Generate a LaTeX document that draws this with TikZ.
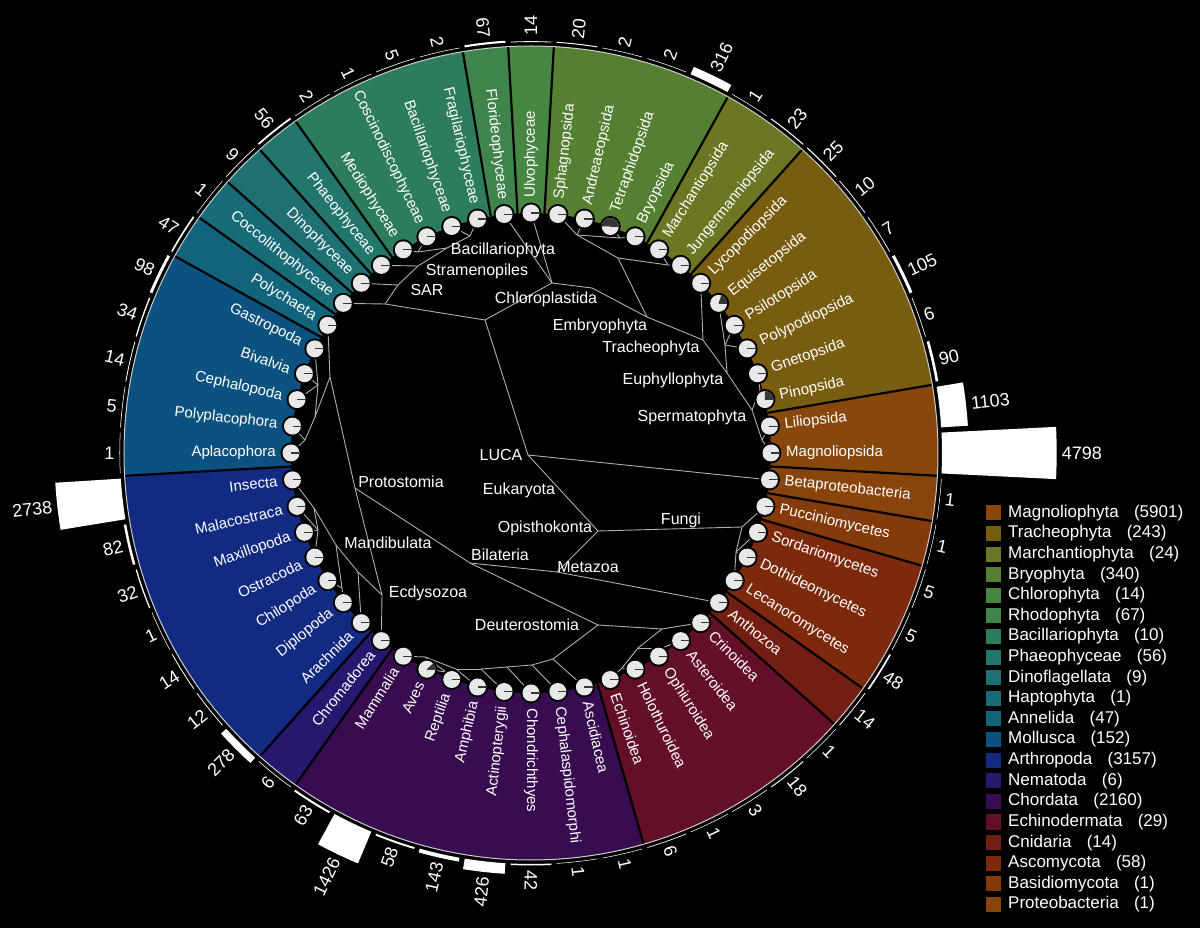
\documentclass[tikz,border=0pt]{standalone}
\usepackage{fontspec}
\setmainfont{Liberation Sans}
\usetikzlibrary{positioning}

\definecolor{phmagnolio}{RGB}{137,72,11}
\definecolor{phtrach}{RGB}{120,92,15}
\definecolor{phmarchant}{RGB}{108,118,35}
\definecolor{phbryo}{RGB}{85,128,50}
\definecolor{phchloro}{RGB}{70,135,65}
\definecolor{phrhodo}{RGB}{62,132,76}
\definecolor{phbacil}{RGB}{45,125,92}
\definecolor{phphaeo}{RGB}{35,118,108}
\definecolor{phdino}{RGB}{30,112,114}
\definecolor{phhapto}{RGB}{24,108,120}
\definecolor{phannel}{RGB}{18,100,125}
\definecolor{phmollus}{RGB}{12,82,128}
\definecolor{pharthro}{RGB}{18,42,130}
\definecolor{phnemat}{RGB}{38,24,110}
\definecolor{phchord}{RGB}{55,12,80}
\definecolor{phechino}{RGB}{100,15,40}
\definecolor{phcnid}{RGB}{115,30,18}
\definecolor{phasco}{RGB}{125,42,12}
\definecolor{phbasid}{RGB}{132,58,10}
\definecolor{phproteo}{RGB}{136,68,10}
\definecolor{pielight}{RGB}{232,232,232}
\definecolor{piedark}{RGB}{55,55,55}
\definecolor{branchgray}{RGB}{175,175,175}
\definecolor{rimgray}{RGB}{205,205,205}

\def\dang{6.4285714}
\def\leaflist{Magnoliopsida/4798/0, Betaproteobacteria/1/0, Pucciniomycetes/1/0,
  Sordariomycetes/5/0, Dothideomycetes/5/0, Lecanoromycetes/48/0, Anthozoa/14/0,
  Crinoidea/1/0, Asteroidea/18/0, Ophiuroidea/3/0, Holothuroidea/1/0, Echinoidea/6/0,
  Ascidiacea/1/0, Cephalaspidomorphi/1/0, Chondrichthyes/42/0, Actinopterygii/426/0,
  Amphibia/143/0, Reptilia/58/0, Aves/1426/0.12, Mammalia/63/0, Chromadorea/6/0,
  Arachnida/278/0, Diplopoda/12/0, Chilopoda/14/0, Ostracoda/1/0, Maxillopoda/32/0,
  Malacostraca/82/0, Insecta/2738/0, Aplacophora/1/0, Polyplacophora/5/0,
  Cephalopoda/14/0, Bivalvia/34/0, Gastropoda/98/0, Polychaeta/47/0,
  Coccolithophyceae/1/0, Dinophyceae/9/0, Phaeophyceae/56/0, Mediophyceae/2/0,
  Coscinodiscophyceae/1/0, Bacillariophyceae/5/0, Fragilariophyceae/2/0,
  Florideophyceae/67/0, Ulvophyceae/14/0, Sphagnopsida/20/0, Andreaeopsida/2/0,
  Tetraphidopsida/2/0.5, Bryopsida/316/0, Marchantiopsida/1/0, Jungermanniopsida/23/0,
  Lycopodiopsida/25/0, Equisetopsida/10/0.2, Psilotopsida/7/0, Polypodiopsida/105/0,
  Gnetopsida/6/0, Pinopsida/90/0.25, Liliopsida/1103/0}

\begin{document}
\begin{tikzpicture}[x=1pt, y=1pt, line join=round,
    leaflbl/.style={text=white, font=\fontsize{15}{17}\selectfont, inner sep=0pt},
    countlbl/.style={text=white, font=\fontsize{18}{20}\selectfont, inner sep=0pt},
    cladelbl/.style={text=white, font=\fontsize{16}{18}\selectfont, inner sep=0pt},
    legendlbl/.style={text=white, font=\fontsize{17}{19}\selectfont, inner sep=0pt, anchor=west},
    branch/.style={branchgray, line width=0.9pt},
    divider/.style={black, line width=2.2pt},
    rim/.style={rimgray, line width=1pt},
  ]

  % ---- background -------------------------------------------
  \fill[black] (-531,-475) rectangle (669,453);
  \useasboundingbox (-531,-475) rectangle (669,453);

  % ---- phylum sectors ---------------------------------------
  \foreach \a/\b/\col in {-1/0/phmagnolio, 1/1/phproteo, 2/2/phbasid, 3/5/phasco,
      6/6/phcnid, 7/11/phechino, 12/19/phchord, 20/20/phnemat, 21/27/pharthro,
      28/32/phmollus, 33/33/phannel, 34/34/phhapto, 35/35/phdino, 36/36/phphaeo,
      37/40/phbacil, 41/41/phrhodo, 42/42/phchloro, 43/46/phbryo, 47/48/phmarchant,
      49/54/phtrach}{
    \pgfmathsetmacro\ta{-(\b+0.5)*\dang}
    \pgfmathsetmacro\tb{-(\a-0.5)*\dang}
    \fill[\col] (\ta:240) -- (\ta:407) arc[start angle=\ta, end angle=\tb, radius=407]
      -- (\tb:240) arc[start angle=\tb, end angle=\ta, radius=240] -- cycle;
  }
  \foreach \k in {0.5,1.5,2.5,5.5,6.5,11.5,19.5,20.5,27.5,32.5,33.5,34.5,35.5,36.5,
      40.5,41.5,42.5,46.5,48.5,54.5}
    \draw[divider] ({-\k*\dang}:240) -- ({-\k*\dang}:407);
  \draw[rim] (0,0) circle[radius=407];

  % ---- leaves: labels, count bars, counts -------------------
  \foreach \name/\cnt/\share [count=\i from 0] in \leaflist {
    \pgfmathsetmacro\th{-\i*\dang}
    \pgfmathtruncatemacro\isleft{(\th < -90.5) && (\th > -269.5)}
    \pgfmathsetmacro\ro{411.5+0.0238*\cnt}
    \pgfmathsetmacro\rn{\ro+5}
    \coordinate (\name) at (\th:240);
    \fill[white] ({\th-2.85}:411) arc[start angle={\th-2.85}, end angle={\th+2.85}, radius=411]
      -- ({\th+2.85}:\ro) arc[start angle={\th+2.85}, end angle={\th-2.85}, radius=\ro] -- cycle;
    \ifnum\isleft=1
      \node[leaflbl, anchor=east, rotate=\th+180] at (\th:255) {\name};
      \node[countlbl, anchor=east, rotate=\th+180] at (\th:\rn) {\cnt};
    \else
      \node[leaflbl, anchor=west, rotate=\th] at (\th:255) {\name};
      \node[countlbl, anchor=west, rotate=\th] at (\th:\rn) {\cnt};
    \fi
  }

  % ---- tree (pixel frame) -----------------------------------
  \begin{scope}[x=1pt, y=-1pt, shift={(-531,-453)}]
    \coordinate (luca)   at (528,455);
    \coordinate (diaph)  at (485,320);
    \coordinate (opis)   at (598,531);
    \coordinate (fungi)  at (742,527);
    \coordinate (asco)   at (736,552);
    \coordinate (metaz)  at (557,572);
    \coordinate (bilat)  at (470,563);
    \coordinate (proto)  at (355,488);
    \coordinate (lopho)  at (330,377);
    \coordinate (mollus) at (315,417);
    \coordinate (conch)  at (318,385);
    \coordinate (acul)   at (305,440);
    \coordinate (ecdys)  at (382,595);
    \coordinate (arthro) at (358,572);
    \coordinate (mandib) at (336,545);
    \coordinate (myria)  at (342,588);
    \coordinate (pancr)  at (314,508);
    \coordinate (crust)  at (318,530);
    \coordinate (deut)   at (598,625);
    \coordinate (echin)  at (662,629);
    \coordinate (eleu)   at (638,648);
    \coordinate (asterz) at (662,648);
    \coordinate (echinz) at (622,668);
    \coordinate (chord)  at (553,659);
    \coordinate (vert)   at (532,665);
    \coordinate (gnath)  at (507,667);
    \coordinate (oste)   at (481,669);
    \coordinate (tetra)  at (456,669);
    \coordinate (amnio)  at (425,657);
    \coordinate (saur)   at (446,672);
    \coordinate (sarb)   at (385,304);
    \coordinate (sar)    at (398,285);
    \coordinate (stram)  at (418,266);
    \coordinate (bacil)  at (447,248);
    \coordinate (bacA)   at (418,252);
    \coordinate (bacB)   at (470,236);
    \coordinate (archae) at (552,283);
    \coordinate (chloro) at (592,288);
    \coordinate (bryo)   at (577,235);
    \coordinate (bryoB)  at (620,238);
    \coordinate (setap)  at (618,258);
    \coordinate (embryo) at (647,317);
    \coordinate (march)  at (668,265);
    \coordinate (trach)  at (703,340);
    \coordinate (euphy)  at (727,373);
    \coordinate (fern)   at (725,345);
    \coordinate (sperm)  at (752,410);
    \coordinate (gymno)  at (760,390);
    \coordinate (angio)  at (762,440);

    \draw[branch] (luca) -- (Betaproteobacteria);
    \draw[branch] (luca) -- (diaph);
    \draw[branch] (luca) -- (opis);
    \draw[branch] (diaph) -- (sarb);
    \draw[branch] (diaph) -- (archae);
    \draw[branch] (sarb) -- (Coccolithophyceae);
    \draw[branch] (sarb) -- (sar);
    \draw[branch] (sar) -- (Dinophyceae);
    \draw[branch] (sar) -- (stram);
    \draw[branch] (stram) -- (Phaeophyceae);
    \draw[branch] (stram) -- (bacil);
    \draw[branch] (bacil) -- (bacA);
    \draw[branch] (bacA) -- (Mediophyceae);
    \draw[branch] (bacA) -- (Coscinodiscophyceae);
    \draw[branch] (bacil) -- (bacB);
    \draw[branch] (bacB) -- (Bacillariophyceae);
    \draw[branch] (bacB) -- (Fragilariophyceae);
    \draw[branch] (archae) -- (Florideophyceae);
    \draw[branch] (archae) -- (Ulvophyceae);
    \draw[branch] (archae) -- (chloro);
    \draw[branch] (chloro) -- (embryo);
    \draw[branch] (embryo) -- (setap);
    \draw[branch] (setap) -- (bryo);
    \draw[branch] (bryo) -- (Sphagnopsida);
    \draw[branch] (bryo) -- (Andreaeopsida);
    \draw[branch] (bryo) -- (bryoB);
    \draw[branch] (bryoB) -- (Tetraphidopsida);
    \draw[branch] (bryoB) -- (Bryopsida);
    \draw[branch] (setap) -- (march);
    \draw[branch] (march) -- (Marchantiopsida);
    \draw[branch] (march) -- (Jungermanniopsida);
    \draw[branch] (embryo) -- (trach);
    \draw[branch] (trach) -- (Lycopodiopsida);
    \draw[branch] (trach) -- (euphy);
    \draw[branch] (euphy) -- (fern);
    \draw[branch] (fern) -- (Equisetopsida);
    \draw[branch] (fern) -- (Psilotopsida);
    \draw[branch] (fern) -- (Polypodiopsida);
    \draw[branch] (euphy) -- (sperm);
    \draw[branch] (sperm) -- (gymno);
    \draw[branch] (gymno) -- (Gnetopsida);
    \draw[branch] (gymno) -- (Pinopsida);
    \draw[branch] (sperm) -- (angio);
    \draw[branch] (angio) -- (Liliopsida);
    \draw[branch] (angio) -- (Magnoliopsida);
    \draw[branch] (opis) -- (fungi);
    \draw[branch] (fungi) -- (Pucciniomycetes);
    \draw[branch] (fungi) -- (asco);
    \draw[branch] (asco) -- (Sordariomycetes);
    \draw[branch] (asco) -- (Dothideomycetes);
    \draw[branch] (asco) -- (Lecanoromycetes);
    \draw[branch] (opis) -- (metaz);
    \draw[branch] (metaz) -- (Anthozoa);
    \draw[branch] (metaz) -- (bilat);
    \draw[branch] (bilat) -- (proto);
    \draw[branch] (bilat) -- (deut);
    \draw[branch] (proto) -- (lopho);
    \draw[branch] (lopho) -- (Polychaeta);
    \draw[branch] (lopho) -- (mollus);
    \draw[branch] (mollus) -- (conch);
    \draw[branch] (conch) -- (Gastropoda);
    \draw[branch] (conch) -- (Bivalvia);
    \draw[branch] (conch) -- (Cephalopoda);
    \draw[branch] (mollus) -- (acul);
    \draw[branch] (acul) -- (Polyplacophora);
    \draw[branch] (acul) -- (Aplacophora);
    \draw[branch] (proto) -- (ecdys);
    \draw[branch] (ecdys) -- (Chromadorea);
    \draw[branch] (ecdys) -- (arthro);
    \draw[branch] (arthro) -- (Arachnida);
    \draw[branch] (arthro) -- (mandib);
    \draw[branch] (mandib) -- (myria);
    \draw[branch] (myria) -- (Diplopoda);
    \draw[branch] (myria) -- (Chilopoda);
    \draw[branch] (mandib) -- (pancr);
    \draw[branch] (pancr) -- (Insecta);
    \draw[branch] (pancr) -- (crust);
    \draw[branch] (crust) -- (Malacostraca);
    \draw[branch] (crust) -- (Maxillopoda);
    \draw[branch] (crust) -- (Ostracoda);
    \draw[branch] (deut) -- (echin);
    \draw[branch] (echin) -- (Crinoidea);
    \draw[branch] (echin) -- (eleu);
    \draw[branch] (eleu) -- (asterz);
    \draw[branch] (asterz) -- (Asteroidea);
    \draw[branch] (asterz) -- (Ophiuroidea);
    \draw[branch] (eleu) -- (echinz);
    \draw[branch] (echinz) -- (Holothuroidea);
    \draw[branch] (echinz) -- (Echinoidea);
    \draw[branch] (deut) -- (chord);
    \draw[branch] (chord) -- (Ascidiacea);
    \draw[branch] (chord) -- (vert);
    \draw[branch] (vert) -- (Cephalaspidomorphi);
    \draw[branch] (vert) -- (gnath);
    \draw[branch] (gnath) -- (Chondrichthyes);
    \draw[branch] (gnath) -- (oste);
    \draw[branch] (oste) -- (Actinopterygii);
    \draw[branch] (oste) -- (tetra);
    \draw[branch] (tetra) -- (Amphibia);
    \draw[branch] (tetra) -- (amnio);
    \draw[branch] (amnio) -- (Mammalia);
    \draw[branch] (amnio) -- (saur);
    \draw[branch] (saur) -- (Reptilia);
    \draw[branch] (saur) -- (Aves);

    % ---- clade labels ----
    \node[cladelbl] at (501,455) {LUCA};
    \node[cladelbl] at (519,490) {Eukaryota};
    \node[cladelbl] at (545,528) {Opisthokonta};
    \node[cladelbl] at (681,520) {Fungi};
    \node[cladelbl] at (500,555) {Bilateria};
    \node[cladelbl] at (588,567) {Metazoa};
    \node[cladelbl] at (401,482) {Protostomia};
    \node[cladelbl] at (388,543) {Mandibulata};
    \node[cladelbl] at (428,593) {Ecdysozoa};
    \node[cladelbl] at (527,625) {Deuterostomia};
    \node[cladelbl] at (427,290) {SAR};
    \node[cladelbl] at (477,271) {Stramenopiles};
    \node[cladelbl] at (503,250) {Bacillariophyta};
    \node[cladelbl] at (546,299) {Chloroplastida};
    \node[cladelbl] at (600,326) {Embryophyta};
    \node[cladelbl] at (651,348) {Tracheophyta};
    \node[cladelbl] at (673,380) {Euphyllophyta};
    \node[cladelbl] at (692,417) {Spermatophyta};

    % ---- legend ----
    \foreach \col/\txt [count=\k from 0] in {
        phmagnolio/Magnoliophyta\hspace{0.9em}(5901),
        phtrach/Tracheophyta\hspace{0.9em}(243),
        phmarchant/Marchantiophyta\hspace{0.9em}(24),
        phbryo/Bryophyta\hspace{0.9em}(340),
        phchloro/Chlorophyta\hspace{0.9em}(14),
        phrhodo/Rhodophyta\hspace{0.9em}(67),
        phbacil/Bacillariophyta\hspace{0.9em}(10),
        phphaeo/Phaeophyceae\hspace{0.9em}(56),
        phdino/Dinoflagellata\hspace{0.9em}(9),
        phhapto/Haptophyta\hspace{0.9em}(1),
        phannel/Annelida\hspace{0.9em}(47),
        phmollus/Mollusca\hspace{0.9em}(152),
        pharthro/Arthropoda\hspace{0.9em}(3157),
        phnemat/Nematoda\hspace{0.9em}(6),
        phchord/Chordata\hspace{0.9em}(2160),
        phechino/Echinodermata\hspace{0.9em}(29),
        phcnid/Cnidaria\hspace{0.9em}(14),
        phasco/Ascomycota\hspace{0.9em}(58),
        phbasid/Basidiomycota\hspace{0.9em}(1),
        phproteo/Proteobacteria\hspace{0.9em}(1)} {
      \fill[\col] (986,{505.5+20.6*\k}) rectangle ++(15,15);
      \node[legendlbl] at (1008,{513+20.6*\k}) {\txt};
    }
  \end{scope}

  % ---- pies on top of the tips ------------------------------
  \foreach \name/\cnt/\share in \leaflist {
    \fill[black] (\name) circle[radius=10.5];
    \fill[pielight] (\name) circle[radius=8.5];
    \ifdim\share pt>0pt
      \fill[piedark] (\name) -- ++(0:8.5) arc[start angle=0, end angle=\share*360, radius=8.5] -- cycle;
    \fi
    \draw[piedark, line width=1.2pt] (\name) -- ++(0:8.5);
  }

\end{tikzpicture}
\end{document}
